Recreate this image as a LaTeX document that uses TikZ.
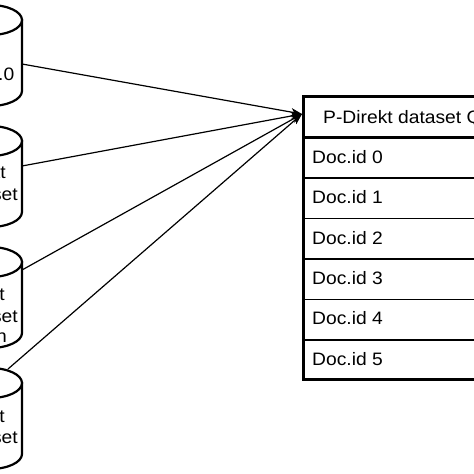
\documentclass[tikz,border=0pt]{standalone}
\usepackage{fontspec}
\setmainfont{Liberation Sans}
\usetikzlibrary{arrows.meta}
\begin{document}
\begin{tikzpicture}[x=1pt,y=-1pt,
  cylline/.style={line width=2.2pt, fill=white},
  conn/.style={line width=1.2pt, -{Stealth[length=11pt,width=8pt,inset=3pt]}},
  txt/.style={inner sep=0pt, font=\fontsize{18}{21}\selectfont, xscale=1.07},
  cell/.style={draw, line width=1.6pt, minimum width=320pt, minimum height=40.4pt, inner sep=0pt, anchor=north west},
]
\useasboundingbox (0,0) rectangle (474,474);
\clip (0,0) rectangle (474,474);
\fill[white] (0,0) rectangle (474,474);

% cylinders
\foreach \i/\t in {0/5,1/126,2/247,3/368}{
  \pgfmathsetmacro{\a}{\t+15}
  \pgfmathsetmacro{\b}{\t+101-15}
  \draw[cylline] (-42,\a) -- (-42,\b) arc[start angle=180,end angle=0,x radius=32,y radius=15] -- (22,\a) -- cycle;
  \draw[cylline] (-10,\a) ellipse [x radius=32, y radius=15];
}

% cylinder texts (visible right ends)
\node[txt, anchor=base east] (c1a) at (14.5,80) {versie 1.0};
\node[txt, anchor=base east] (c2a) at (6,178) {P-Direkt};
\node[txt, anchor=base east] (c2b) at (18,200) {dataset};
\node[txt, anchor=base east] (c3a) at (5,300) {P-Direkt};
\node[txt, anchor=base east] (c3b) at (18,322) {dataset};
\node[txt, anchor=base east] (c3c) at (7,342) {version};
\node[txt, anchor=base east] (c4a) at (5,422) {P-Direkt};
\node[txt, anchor=base east] (c4b) at (18,443) {dataset};

% table
\node[cell, minimum height=41pt] (hdr) at (303.5,96) {};
\node[cell] (r0) at (303.5,137) {};
\node[cell] (r1) at (303.5,177.4) {};
\node[cell] (r2) at (303.5,217.8) {};
\node[cell] (r3) at (303.5,258.2) {};
\node[cell] (r4) at (303.5,298.6) {};
\node[cell] (r5) at (303.5,339) {};
\draw[line width=3pt] (303.5,96) rectangle (640,379.4);
\draw[line width=2.6pt] (303.5,137) -- (640,137);

\node[txt, anchor=base west] (ht) at (323,123.5) {P-Direkt dataset Q};
\node[txt, anchor=base west] (t0) at (312,163.3) {Doc.id 0};
\node[txt, anchor=base west] (t1) at (312,203.7) {Doc.id 1};
\node[txt, anchor=base west] (t2) at (312,244.1) {Doc.id 2};
\node[txt, anchor=base west] (t3) at (312,284.5) {Doc.id 3};
\node[txt, anchor=base west] (t4) at (312,324.9) {Doc.id 4};
\node[txt, anchor=base west] (t5) at (312,365.3) {Doc.id 5};

% connectors
\coordinate (tgt) at (302,114);
\coordinate (s1) at (22,64);
\coordinate (s2) at (22,166);
\coordinate (s3) at (22,270);
\coordinate (s4) at (8,369);
\draw[conn] (s1) -- (tgt);
\draw[conn] (s2) -- (tgt);
\draw[conn] (s3) -- (tgt);
\draw[conn] (s4) -- (tgt);
\end{tikzpicture}
\end{document}
